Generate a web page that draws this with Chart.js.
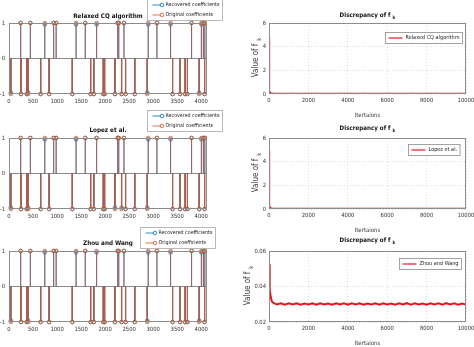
<!DOCTYPE html>
<html>
<head>
<meta charset="utf-8">
<script src="https://cdn.jsdelivr.net/npm/chart.js@4.4.1/dist/chart.umd.min.js"></script>
<style>
  html, body { margin: 0; padding: 0; background: #fff; }
  body { width: 474px; height: 347px; overflow: hidden; position: relative; }
  canvas { position: absolute; }
</style>
</head>
<body>
<canvas id="coefCQ"></canvas>
<canvas id="coefLopez"></canvas>
<canvas id="coefZhou"></canvas>
<canvas id="fCQ"></canvas>
<canvas id="fLopez"></canvas>
<canvas id="fZhou"></canvas>
<script>
const FONT = '"Liberation Sans Narrow", "DejaVu Sans Condensed", Arial, sans-serif';

// sparse signal: index of every nonzero entry and its value
const coefIdx = [38, 243, 250, 370, 398, 444, 659, 745, 835, 929, 981, 1317, 1396, 1587, 1699, 1765, 1823, 1962, 1990, 2205,
                 2262, 2284, 2343, 2392, 2426, 2617, 2877, 2897, 3078, 3362, 3404, 3561, 3665, 3713, 3799, 3958, 4003, 4045, 4070, 4075];
const originalCoef = [-1, 1, -1, -1, -1, 1, -1, 1, -1, 1, 1, -1, 1, 1, -1, -1, 1, -1, -1, -1,
                      1, 1, -1, 1, -1, -1, -1, 1, 1, 1, -1, -1, -1, -1, 1, -1, 1, 1, -1, 1];
const recoveredCQ = [-0.96, 1, -1, -1, -0.96, 1, -1, 0.96, -1, 1, 1, -1, 0.96, 1, -1, -1, 0.96, -1, -1, -1,
                     1, 1, -1, 1, -1, -1, -0.96, 0.96, 1, 0.96, -1, -1, -1, -1, 1, -0.96, 0.96, 1, -1, 1];
const recoveredLopez = [-0.96, 1, -1, -1, -0.96, 1, -1, 0.96, -1, 1, 1, -1, 0.96, 1, -1, -1, 1, -1, -1, -0.96,
                        1, 1, -0.96, 1, -1, -1, -0.96, 0.96, 1, 0.96, -1, -1, -1, -1, 1, -1, 0.96, 1, -1, 1];
const recoveredZhou = [-0.96, 1, -1, -1, -0.96, 1, -1, 0.96, -1, 1, 1, -1, 0.96, 1, -1, -1, 0.96, -1, -1, -1,
                       1, 1, -1, 1, -1, -1, -0.96, 0.96, 1, 0.96, -1, -1, -1, -1, 1, -0.96, 0.96, 1, -1, 1];
const coefXTicks = [0, 500, 1000, 1500, 2000, 2500, 3000, 3500, 4000];
const coefYTicks = [-1, 0, 1];

// objective value per iteration
const iterCQ = [0, 5, 10, 20, 40, 80, 200, 1000, 5000, 10000];
const valCQ = [4.8, 2.6, 1.2, 0.5, 0.2, 0.08, 0.04, 0.03, 0.03, 0.03];
const iterLopez = [0, 5, 10, 20, 40, 80, 200, 1000, 5000, 10000];
const valLopez = [4.9, 2.7, 1.3, 0.5, 0.2, 0.08, 0.04, 0.03, 0.03, 0.03];
const iterZhou = [0, 20, 50, 100, 150, 250,
  400, 600, 800, 1000, 1200, 1400, 1600, 1800, 2000, 2200, 2400, 2600, 2800, 3000, 3200, 3400, 3600, 3800, 4000, 4200,
  4400, 4600, 4800, 5000, 5200, 5400, 5600, 5800, 6000, 6200, 6400, 6600, 6800, 7000, 7200, 7400, 7600, 7800, 8000,
  8200, 8400, 8600, 8800, 9000, 9200, 9400, 9600, 9800, 10000];
const valZhou = [0.0525, 0.045, 0.038, 0.0335, 0.0314, 0.0306,
  0.0299, 0.0305, 0.0298, 0.0305, 0.0299, 0.0306, 0.0298, 0.0304, 0.0299, 0.0305,
  0.0297, 0.0305, 0.0299, 0.0304, 0.0298, 0.0306, 0.0299, 0.0305, 0.0297, 0.0305,
  0.0299, 0.0306, 0.0298, 0.0304, 0.0299, 0.0305, 0.0298, 0.0306, 0.0299, 0.0304,
  0.0298, 0.0305, 0.0299, 0.0306, 0.0297, 0.0305, 0.0299, 0.0304, 0.0298, 0.0306,
  0.0299, 0.0305, 0.0297, 0.0306, 0.0299, 0.0305, 0.0298, 0.0304, 0.0299];
const iterTicks = [0, 2000, 4000, 6000, 8000, 10000];
const fTicks = [0, 2, 4, 6];
const fTicksZhou = [0.02, 0.04, 0.06];

const BLUE = '#0072BD';
const ORANGE = '#D95319';
const RED = '#e8141c';

// stem lines: 0 -> value, broken by a null so every stem is its own segment
function stems(idx, vals) {
  const pts = [];
  idx.forEach((x, i) => pts.push({ x, y: 0 }, { x, y: vals[i] }, { x, y: null }));
  return pts;
}
function heads(idx, vals) {
  return idx.map((x, i) => ({ x, y: vals[i] }));
}
function pairs(xs, ys) {
  return xs.map((x, i) => ({ x, y: ys[i] }));
}

// size the canvas and work out padding so the plot box lands at `area`
function place(id, box, area, yW, xH) {
  const cv = document.getElementById(id);
  cv.width = box.w; cv.height = box.h;
  cv.style.left = box.x + 'px';
  cv.style.top = box.y + 'px';
  return {
    left: area.x - box.x - yW,
    top: area.y - box.y,
    right: box.x + box.w - area.x - area.w,
    bottom: box.y + box.h - area.y - area.h - xH
  };
}

function drawSub(ctx, x, y, main, sub, size, bold) {
  ctx.font = (bold ? 'bold ' : '') + size + 'px ' + FONT;
  const w1 = ctx.measureText(main).width;
  const subSize = size * 0.75;
  ctx.font = (bold ? 'bold ' : '') + subSize + 'px ' + FONT;
  const w2 = sub ? ctx.measureText(sub).width + size * 0.35 : 0;
  const x0 = x - (w1 + w2) / 2;
  ctx.textAlign = 'left';
  ctx.textBaseline = 'middle';
  ctx.font = (bold ? 'bold ' : '') + size + 'px ' + FONT;
  ctx.fillText(main, x0, y);
  if (sub) {
    ctx.font = (bold ? 'bold ' : '') + subSize + 'px ' + FONT;
    ctx.fillText(sub, x0 + w1 + size * 0.35, y + size * 0.45);
  }
}

// axes box, titles, axis labels and legend drawn on top of the plot
const deco = {
  id: 'deco',
  afterDraw(chart, args, o) {
    const { ctx, chartArea: a } = chart;
    ctx.save();
    ctx.strokeStyle = o.boxColor;
    ctx.lineWidth = 1;
    ctx.strokeRect(Math.round(a.left) + 0.5, Math.round(a.top) + 0.5, Math.round(a.width) - 1, Math.round(a.height) - 1);

    ctx.fillStyle = '#111';
    drawSub(ctx, (a.left + a.right) / 2, a.top + o.titleDy, o.title, o.titleSub, o.titleSize, true);

    if (o.xLabel) {
      ctx.fillStyle = '#3a3a3a';
      drawSub(ctx, (a.left + a.right) / 2, a.bottom + o.xLabelDy, o.xLabel, '', 6, false);
    }
    if (o.yLabel) {
      ctx.save();
      ctx.translate(a.left + o.yLabelDx, (a.top + a.bottom) / 2 - 1);
      ctx.rotate(-Math.PI / 2);
      ctx.fillStyle = '#3a3a3a';
      drawSub(ctx, 0, 0, o.yLabel, o.yLabelSub, 8, false);
      ctx.restore();
    }

    // legend box anchored by its top-right corner
    const L = o.legend;
    ctx.font = L.size + 'px ' + FONT;
    let tw = 0;
    L.items.forEach(it => { tw = Math.max(tw, ctx.measureText(it.text).width); });
    const bw = L.textX + tw + 3;
    const bh = L.rowH * L.items.length + L.padY * 2;
    const bx = Math.round(a.right + L.dx - bw) + 0.5;
    const by = Math.round(a.top + L.dy) + 0.5;
    ctx.fillStyle = '#fff';
    ctx.fillRect(bx, by, bw, bh);
    ctx.strokeStyle = L.border;
    ctx.lineWidth = 0.8;
    ctx.strokeRect(bx, by, bw, bh);
    L.items.forEach((it, i) => {
      const cy = by + L.padY + L.rowH * (i + 0.5);
      ctx.strokeStyle = it.color;
      ctx.lineWidth = it.width;
      ctx.beginPath();
      ctx.moveTo(bx + L.lineX0, cy);
      ctx.lineTo(bx + L.lineX1, cy);
      ctx.stroke();
      if (it.marker) {
        ctx.lineWidth = 0.8;
        ctx.beginPath();
        ctx.arc(bx + L.lineX1 + 1.5, cy, 1.8, 0, Math.PI * 2);
        ctx.stroke();
      }
      ctx.fillStyle = '#222';
      ctx.textAlign = 'left';
      ctx.textBaseline = 'middle';
      ctx.font = L.size + 'px ' + FONT;
      ctx.fillText(it.text, bx + L.textX, cy);
    });
    ctx.restore();
  }
};

function fixedTicks(list) {
  return s => { s.ticks = list.map(v => ({ value: v })); };
}
const plain = v => String(v);

const tickFont = { family: FONT, size: 5.8 };
const TICK = '#333';

function coefChart(id, top, title, recovered, titleDy, legendPos) {
  const yW = 14, xH = 14;
  const area = { x: 9, y: top, w: 198, h: 71 };
  const padding = place(id, { x: -8, y: top - 30, w: 234, h: 30 + 71 + 18 }, area, yW, xH);
  return new Chart(document.getElementById(id), {
    type: 'line',
    data: {
      datasets: [
        { data: stems(coefIdx, originalCoef), borderColor: 'rgba(196,88,58,0.85)', borderWidth: 0.9,
          pointRadius: 0, spanGaps: false, order: 1 },
        { data: heads(coefIdx, originalCoef), showLine: false, pointRadius: 1.8, pointBorderWidth: 0.8,
          pointBorderColor: ORANGE, pointBackgroundColor: 'rgba(0,0,0,0)', clip: 4, order: 0 },
        { data: stems(coefIdx, recovered), borderColor: BLUE, borderWidth: 0.9,
          pointRadius: 0, spanGaps: false, order: 3 },
        { data: heads(coefIdx, recovered), showLine: false, pointRadius: 1.8, pointBorderWidth: 0.8,
          pointBorderColor: BLUE, pointBackgroundColor: 'rgba(0,0,0,0)', clip: 4, order: 2 }
      ]
    },
    options: {
      responsive: false,
      animation: false,
      events: [],
      layout: { padding },
      scales: {
        x: {
          type: 'linear', min: 0, max: 4120,
          afterBuildTicks: fixedTicks(coefXTicks),
          afterFit: s => { s.height = xH; s.paddingLeft = 0; s.paddingRight = 0; },
          grid: { display: false, drawTicks: false },
          border: { display: false },
          ticks: { font: tickFont, color: TICK, padding: 4, maxRotation: 0, autoSkip: false, callback: plain }
        },
        y: {
          min: -1, max: 1,
          afterBuildTicks: fixedTicks(coefYTicks),
          afterFit: s => { s.width = yW; s.paddingTop = 0; s.paddingBottom = 0; },
          grid: { drawTicks: false, color: c => c.tick && c.tick.value === 0 ? '#8a8a8a' : 'rgba(0,0,0,0)' },
          border: { display: false },
          ticks: { font: tickFont, color: TICK, padding: 4, callback: plain }
        }
      },
      plugins: {
        legend: { display: false },
        tooltip: { enabled: false },
        deco: {
          boxColor: '#8c8c8c',
          title, titleSub: '', titleSize: 6.3, titleDy: titleDy,
          legend: {
            size: 5.3, rowH: 10, padY: 0.5, textX: 18, lineX0: 5, lineX1: 13,
            dx: legendPos.dx, dy: legendPos.dy, border: '#a8a8a8',
            items: [
              { text: 'Recovered coefficients', color: BLUE, width: 0.8, marker: true },
              { text: 'Original coefficients', color: ORANGE, width: 0.8, marker: true }
            ]
          }
        }
      }
    },
    plugins: [deco]
  });
}

function fChart(id, top, iters, vals, label, yMin, yMax, yTicks, o) {
  const yW = 32, xH = 14;
  const area = { x: 269, y: top, w: 197, h: 71 };
  const padding = place(id, { x: 237, y: top - 30, w: 257, h: 30 + 71 + 28 }, area, yW, xH);
  const dotted = { color: '#d4d4d4', drawTicks: false, lineWidth: 0.8 };
  return new Chart(document.getElementById(id), {
    type: 'line',
    data: {
      datasets: [
        { data: pairs(iters, vals), borderColor: RED, borderWidth: o.lineWidth, pointRadius: 0, tension: 0 }
      ]
    },
    options: {
      responsive: false,
      animation: false,
      events: [],
      layout: { padding },
      scales: {
        x: {
          type: 'linear', min: 0, max: 10000,
          afterBuildTicks: fixedTicks(iterTicks),
          afterFit: s => { s.height = xH; s.paddingLeft = 0; s.paddingRight = 0; },
          grid: dotted,
          border: { display: false, dash: [1, 2] },
          ticks: { font: tickFont, color: TICK, padding: 3, maxRotation: 0, autoSkip: false, callback: plain }
        },
        y: {
          min: yMin, max: yMax,
          afterBuildTicks: fixedTicks(yTicks),
          afterFit: s => { s.width = yW; s.paddingTop = 0; s.paddingBottom = 0; },
          grid: dotted,
          border: { display: false, dash: [1, 2] },
          ticks: { font: tickFont, color: TICK, padding: 3, callback: plain }
        }
      },
      plugins: {
        legend: { display: false },
        tooltip: { enabled: false },
        deco: {
          boxColor: '#8c8c8c',
          title: 'Discrepancy of f', titleSub: 'k', titleSize: 6.2, titleDy: o.titleDy,
          xLabel: 'Itertaions', xLabelDy: 21,
          yLabel: 'Value of f', yLabelSub: 'k', yLabelDx: o.yLabelDx,
          legend: {
            size: 5.5, rowH: 10, padY: 0.5, textX: 20, lineX0: 3, lineX1: 17,
            dx: o.legendDx, dy: o.legendDy, border: '#8c8c8c',
            items: [{ text: label, color: RED, width: 1.2, marker: false }]
          }
        }
      }
    },
    plugins: [deco]
  });
}

coefChart('coefCQ', 23, 'Relaxed CQ algorithm', recoveredCQ, -7, { dx: 15, dy: -24 });
coefChart('coefLopez', 138, 'Lopez et al.', recoveredLopez, -8, { dx: 15, dy: -28 });
coefChart('coefZhou', 251, 'Zhou and Wang', recoveredZhou, -7.5, { dx: 8, dy: -24 });

fChart('fCQ', 23, iterCQ, valCQ, 'Relaxed CQ algorithm', 0, 6, fTicks,
  { lineWidth: 1.6, titleDy: -8, yLabelDx: -13, legendDx: -4, legendDy: 9 });
fChart('fLopez', 138, iterLopez, valLopez, 'Lopez et al.', 0, 6, fTicks,
  { lineWidth: 1.6, titleDy: -10, yLabelDx: -13, legendDx: -6, legendDy: 6 });
fChart('fZhou', 251, iterZhou, valZhou, 'Zhou and Wang', 0.02, 0.06, fTicksZhou,
  { lineWidth: 2, titleDy: -10.5, yLabelDx: -21, legendDx: -5, legendDy: 7 });
</script>
</body>
</html>
